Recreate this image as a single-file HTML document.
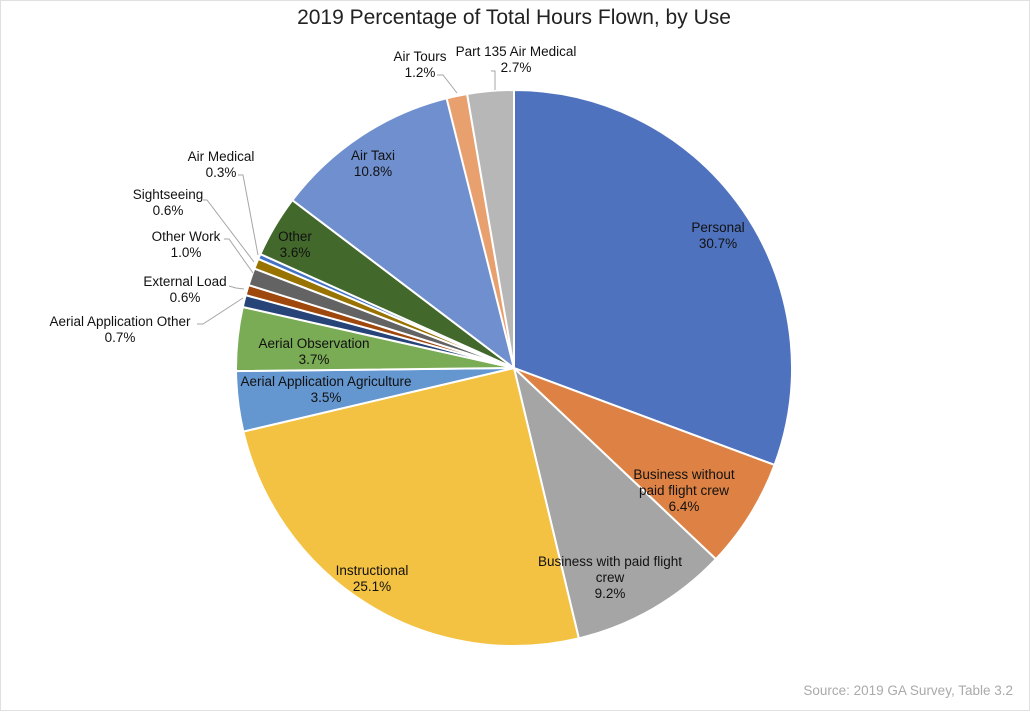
<!DOCTYPE html>
<html><head><meta charset="utf-8"><style>
body{margin:0;background:#fff;width:1030px;height:711px;overflow:hidden;font-family:"Liberation Sans",sans-serif}
</style></head><body>
<svg id="chart" width="1030" height="711" xmlns="http://www.w3.org/2000/svg" font-family="Liberation Sans, sans-serif">
<rect x="0.5" y="0.5" width="1029" height="710" fill="#fff" stroke="#e0e0e0"/>
<text x="514" y="24" text-anchor="middle" font-size="21" fill="#222">2019 Percentage of Total Hours Flown, by Use</text>
<text x="1013" y="695" text-anchor="end" font-size="13.5" fill="#aaa">Source: 2019 GA Survey, Table 3.2</text>
<g id="slices"></g><g id="labels"></g>
</svg>
<script>
const categories=["Personal","Business without paid flight crew","Business with paid flight crew","Instructional","Aerial Application Agriculture","Aerial Observation","Aerial Application Other","External Load","Other Work","Sightseeing","Air Medical","Other","Air Taxi","Air Tours","Part 135 Air Medical"];
const values=[30.7,6.4,9.2,25.1,3.5,3.7,0.7,0.6,1.0,0.6,0.3,3.6,10.8,1.2,2.7];
const valueLabels=["30.7%","6.4%","9.2%","25.1%","3.5%","3.7%","0.7%","0.6%","1.0%","0.6%","0.3%","3.6%","10.8%","1.2%","2.7%"];
const colors=["#4f72be","#dd8244","#a5a5a5","#f4c242","#6496cf","#7aab55","#264478","#9e480e","#636363","#997300","#4472c4","#43682b","#6f8fcf","#e9a06f","#b7b7b7"];
const labelLines=[["Personal"],["Business without","paid flight crew"],["Business with paid flight","crew"],["Instructional"],["Aerial Application Agriculture"],["Aerial Observation"],["Aerial Application Other"],["External Load"],["Other Work"],["Sightseeing"],["Air Medical"],["Other"],["Air Taxi"],["Air Tours"],["Part 135 Air Medical"]];
const labelPos=[[718,232],[684,479],[610,566],[372,575],[326,386],[314,348],[120,326],[185,286],[186,241],[168,199],[221,161],[295,241],[373,160],[420,61],[516,56]];
const leaders={6:[[197,324],[203,324],[243,298]],7:[[229,286],[236,288],[244,289]],8:[[224,239],[229,239],[253,273]],9:[[203,200],[207,200],[254,262]],10:[[238,175],[243,175],[258,255]],13:[[437,75],[443,75],[457,93]],14:[[491,71],[495,71],[495,90]]};
const cx=514,cy=368,r=278;
const total=values.reduce((a,b)=>a+b,0);
const NS="http://www.w3.org/2000/svg";
const sg=document.getElementById('slices'),lg=document.getElementById('labels');
let acc=0;
function pt(a){return [cx+r*Math.sin(a),cy-r*Math.cos(a)];}
values.forEach((v,i)=>{
  const a0=acc/total*2*Math.PI;acc+=v;const a1=acc/total*2*Math.PI;
  const p0=pt(a0),p1=pt(a1);const large=(a1-a0)>Math.PI?1:0;
  const p=document.createElementNS(NS,'path');
  p.setAttribute('d',`M${cx},${cy}L${p0[0]},${p0[1]}A${r},${r} 0 ${large} 1 ${p1[0]},${p1[1]}Z`);
  p.setAttribute('fill',colors[i]);p.setAttribute('stroke','#fff');p.setAttribute('stroke-width','2');
  
  
  sg.appendChild(p);
  const t=document.createElementNS(NS,'text');
  t.setAttribute('font-size','13.5');t.setAttribute('fill','#111');t.setAttribute('text-anchor','middle');
  
  
  const lines=labelLines[i].concat([valueLabels[i]]);
  const [lx,ly]=labelPos[i];
  lines.forEach((s,k)=>{const ts=document.createElementNS(NS,'tspan');ts.setAttribute('x',lx);ts.setAttribute('y',ly+k*16);ts.textContent=s;t.appendChild(ts);});
  lg.appendChild(t);
  if(leaders[i]){const pl=document.createElementNS(NS,'polyline');
    pl.setAttribute('points',leaders[i].map(q=>q.join(',')).join(' '));
    pl.setAttribute('fill','none');pl.setAttribute('stroke','#a6a6a6');pl.setAttribute('stroke-width','1');
    
    
    lg.appendChild(pl);}
});
</script>
</body></html>
